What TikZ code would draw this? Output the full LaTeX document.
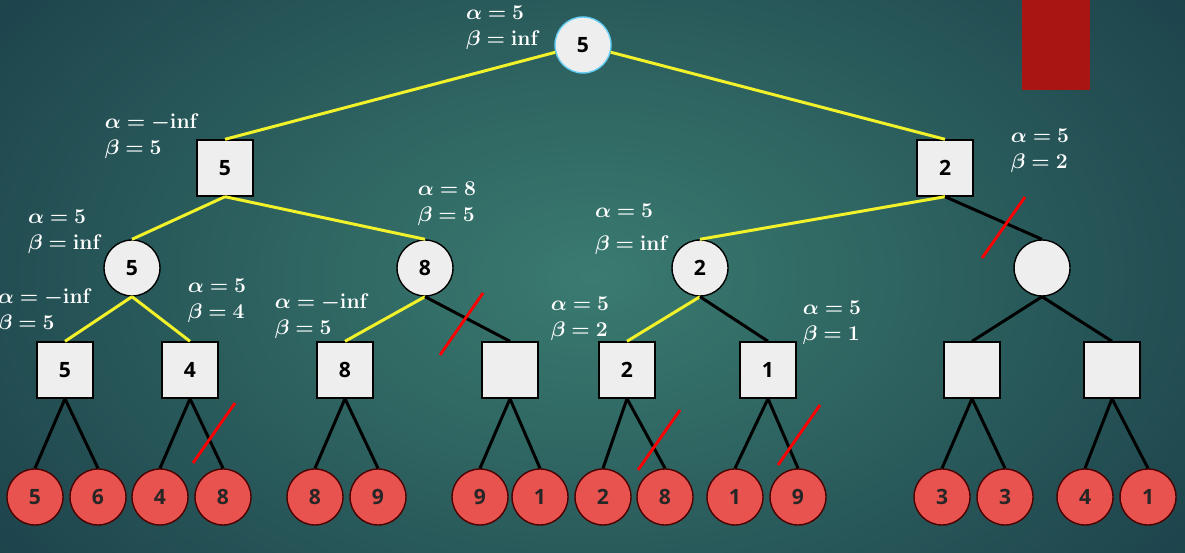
\documentclass[tikz,border=0pt]{standalone}
\usepackage{amsmath}
\usepackage{bm}
\usepackage{fontspec}
\newfontfamily\numfont{Open Sans}
\usetikzlibrary{positioning}
\definecolor{bgdark}{HTML}{173744}
\definecolor{bglight}{HTML}{3A7B70}
\definecolor{nodegray}{HTML}{EEEEEE}
\definecolor{leafred}{HTML}{E8524F}
\definecolor{boxred}{HTML}{A81512}
\definecolor{edgeyellow}{HTML}{F2F22A}
\newcommand{\ab}[2]{$\bm{\alpha = #1}$\\$\bm{\beta = #2}$}
\newcommand{\infx}{\mathbf{inf}}
\tikzset{
  maxnode/.style={circle, fill=nodegray, draw=black, line width=0.8pt, minimum size=1.12cm, inner sep=0pt, font=\numfont\bfseries\fontsize{12}{14}\selectfont},
  minnode/.style={rectangle, fill=nodegray, draw=black, line width=0.8pt, minimum size=1.12cm, inner sep=0pt, font=\numfont\bfseries\fontsize{12}{14}\selectfont},
  leafnode/.style={circle, fill=leafred, draw=black!70!red, line width=0.8pt, minimum size=1.12cm, inner sep=0pt, text=black!85, font=\numfont\bfseries\fontsize{12}{14}\selectfont},
  abtext/.style={text=white, align=left, font=\fontsize{12}{15}\selectfont, inner sep=0pt},
  hot/.style={edgeyellow, line width=1.7pt},
  cold/.style={black, line width=1.7pt},
  cut/.style={red, line width=1.6pt}
}
\begin{document}
\begin{tikzpicture}[x=0.02cm, y=-0.02cm]
        % Background
        \useasboundingbox (0,0) rectangle (1185,553);
        \shade[inner color=bglight, outer color=bgdark] (-300,-300) rectangle (1485,853);
        \fill[boxred] (1022,0) rectangle (1090,90);

        % Root and first min level
        \node[maxnode, draw=cyan!60] (root) at (583,45) {5};
        \node[minnode] (l) at (225,168) {5};
        \node[minnode] (r) at (945,168) {2};

        % Max level
        \node[maxnode] (ll) at (132,268) {5};
        \node[maxnode] (lr) at (425,268) {8};
        \node[maxnode] (rl) at (700,268) {2};
        \node[maxnode] (rr) at (1042,268) {};

        % Min level
        \node[minnode] (m1) at (65,370) {5};
        \node[minnode] (m2) at (190,370) {4};
        \node[minnode] (m3) at (345,370) {8};
        \node[minnode] (m4) at (510,370) {};
        \node[minnode] (m5) at (627,370) {2};
        \node[minnode] (m6) at (768,370) {1};
        \node[minnode] (m7) at (972,370) {};
        \node[minnode] (m8) at (1112,370) {};

        % Leaves
        \foreach \x/\v [count=\i] in {35/5,98/6,160/4,223/8,315/8,378/9,480/9,540/1,603/2,665/8,735/1,798/9,942/3,1005/3,1085/4,1148/1} {
            \node[leafnode] (f\i) at (\x,497) {\v};
        }

        % Edges
        \draw[hot] (root) -- (l.north);
        \draw[hot] (root) -- (r.north);
        \draw[hot] (l.south) -- (ll.north);
        \draw[hot] (l.south) -- (lr.north);
        \draw[hot] (r.south) -- (rl.north);
        \draw[cold] (r.south) -- (rr.north);
        \draw[hot] (ll.south) -- (m1.north);
        \draw[hot] (ll.south) -- (m2.north);
        \draw[hot] (lr.south) -- (m3.north);
        \draw[cold] (lr.south) -- (m4.north);
        \draw[hot] (rl.south) -- (m5.north);
        \draw[cold] (rl.south) -- (m6.north);
        \draw[cold] (rr.south) -- (m7.north);
        \draw[cold] (rr.south) -- (m8.north);
        \foreach \m/\a/\b in {m1/1/2,m2/3/4,m3/5/6,m4/7/8,m5/9/10,m6/11/12,m7/13/14,m8/15/16} {
            \draw[cold] (\m.south) -- (f\a.north);
            \draw[cold] (\m.south) -- (f\b.north);
        }

        % Pruned branches
        \coordinate (c1a) at (982,258); \coordinate (c1b) at (1025,197);
        \coordinate (c2a) at (440,355); \coordinate (c2b) at (483,293);
        \coordinate (c3a) at (193,463); \coordinate (c3b) at (235,403);
        \coordinate (c4a) at (638,470); \coordinate (c4b) at (680,410);
        \coordinate (c5a) at (778,465); \coordinate (c5b) at (820,405);
        \foreach \c in {c1,c2,c3,c4,c5} {
            \draw[cut] (\c a) -- (\c b);
        }

        % Alpha beta labels
        \node[abtext] (t0) at (503,28) {\ab{5}{\infx}};
        \node[abtext] (t1) at (152,136) {\ab{-\infx}{5}};
        \node[abtext] (t2) at (1040,151) {\ab{5}{2}};
        \node[abtext] (t3) at (65,232) {\ab{5}{\infx}};
        \node[abtext] (t4) at (447,204) {\ab{8}{5}};
        \node[abtext] (t5) at (632,229) {$\bm{\alpha = 5}$\\[4pt]$\bm{\beta = \infx}$};
        \node[abtext] (t6) at (45,311) {\ab{-\infx}{5}};
        \node[abtext] (t7) at (217,301) {\ab{5}{4}};
        \node[abtext] (t8) at (322,316) {\ab{-\infx}{5}};
        \node[abtext] (t9) at (580,319) {\ab{5}{2}};
        \node[abtext] (t10) at (832,323) {\ab{5}{1}};
\end{tikzpicture}
\end{document}
